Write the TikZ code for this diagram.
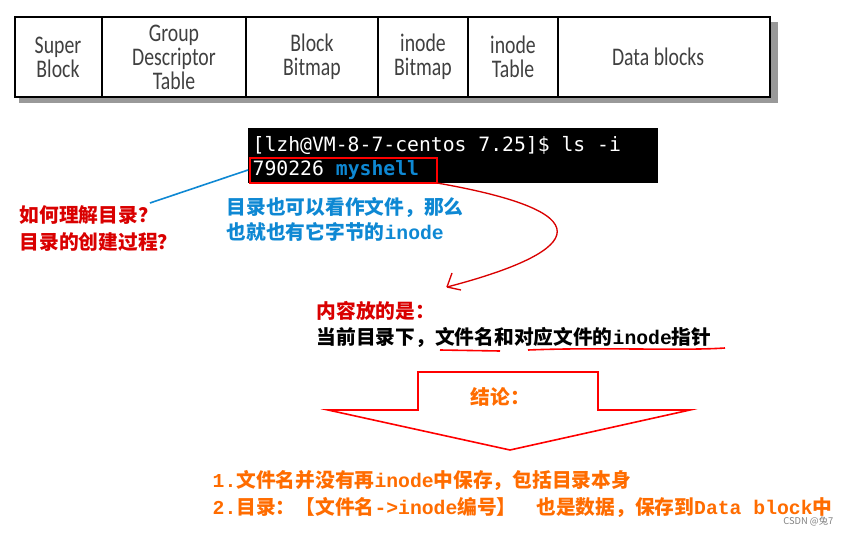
\documentclass[tikz,border=0pt]{standalone}
\usepackage{fontspec}
\newfontfamily\cjk{Noto Sans CJK SC}
\newfontfamily\tbl[FakeStretch=0.78]{Carlito}
\newfontfamily\mono{DejaVu Sans Mono}
\newfontfamily\lm{Liberation Mono}
\newcommand\Lt[1]{{\lm\bfseries #1}}
\begin{document}
\begin{tikzpicture}[x=0.75pt,y=-0.75pt,
  cell/.style={font=\tbl\fontsize{19}{18}\selectfont,align=center,text=black!75},
  cj/.style={font=\cjk\bfseries\fontsize{14.8}{16}\selectfont,anchor=west},
  red1/.style={cj,text=red!85!black},
  blu/.style={cj,text=cyan!70!blue},
  org/.style={cj,text=orange!85!red}]
\useasboundingbox (0,0) rectangle (850,535);
% table
\fill[black!40] (19,22) rectangle (778,103);
\draw[thick,fill=white] (15,17) rectangle (770,97);
\foreach \x in {102,246,378,468,558} \draw[thick] (\x,17) -- (\x,97);
\node[cell] (sb) at (58,57) {Super\\Block};
\node[cell] (gd) at (174,57) {Group\\Descriptor\\Table};
\node[cell] (bb) at (312,57) {Block\\Bitmap};
\node[cell] (ib) at (423,57) {inode\\Bitmap};
\node[cell] (it) at (513,57) {inode\\Table};
\node[cell] (db) at (658,57) {Data blocks};
% terminal
\fill[black] (248,128) rectangle (658,183);
\node[anchor=west,text=white,font=\mono\fontsize{14.8}{14}\selectfont] (l1) at (248,145) {[lzh@VM-8-7-centos 7.25]\$ ls -i};
\node[anchor=west,font=\mono\fontsize{14.8}{14}\selectfont] (l2) at (248,170) {\textcolor{white}{790226} \textcolor{cyan!70!blue}{\bfseries myshell}};
\draw[red,line width=1.5pt] (250,158) rectangle (437,183);
\coordinate (rb) at (437,183);
\coordinate (lb) at (248,170);
% labels
\node[red1] (q1) at (15,215) {如何理解目录？};
\node[red1] (q2) at (15,242) {目录的创建过程？};
\node[blu] (b1) at (222,207) {目录也可以看作文件，那么};
\node[blu] (b2) at (222,232) {也就也有它字节的\Lt{inode}};
\draw[cyan!70!blue,line width=1.2pt] (lb) -- (150,203);
\coordinate (tip) at (447,287);
\draw[red!85!black,line width=1pt] (rb) .. controls (620,215) and (570,255) .. (tip);
\draw[red!85!black,line width=1pt] (tip) -- ++(5,-14) (tip) -- ++(14,3);
\node[red1] (c1) at (312,311) {内容放的是：};
\node[cj] (c2) at (312,337) {当前目录下，文件名和对应文件的\Lt{inode}指针};
\draw[red,line width=1.2pt] (440,350) -- (500,351);
\draw[red,line width=1.2pt] (528,350) .. controls (600,347) and (680,351) .. (725,348);
% big arrow
\draw[red,line width=1.2pt] (418,372) -- (598,372) -- (598,410) -- (690,410) -- (510,450) -- (328,410) -- (418,410) -- cycle;
\node[org] (con) at (466,397) {结论：};
\node[org] (r1) at (208,480) {\Lt{1.}文件名并没有再\Lt{inode}中保存，包括目录本身};
\node[org] (r2) at (208,507) {\Lt{2.}目录：【文件名\Lt{->inode}编号】\quad 也是数据，保存到\Lt{Data block}中};
\node[anchor=east,text=black!50,font=\cjk\fontsize{7}{8}\selectfont] (cs) at (838,521) {CSDN @兔7};
\end{tikzpicture}
\end{document}
